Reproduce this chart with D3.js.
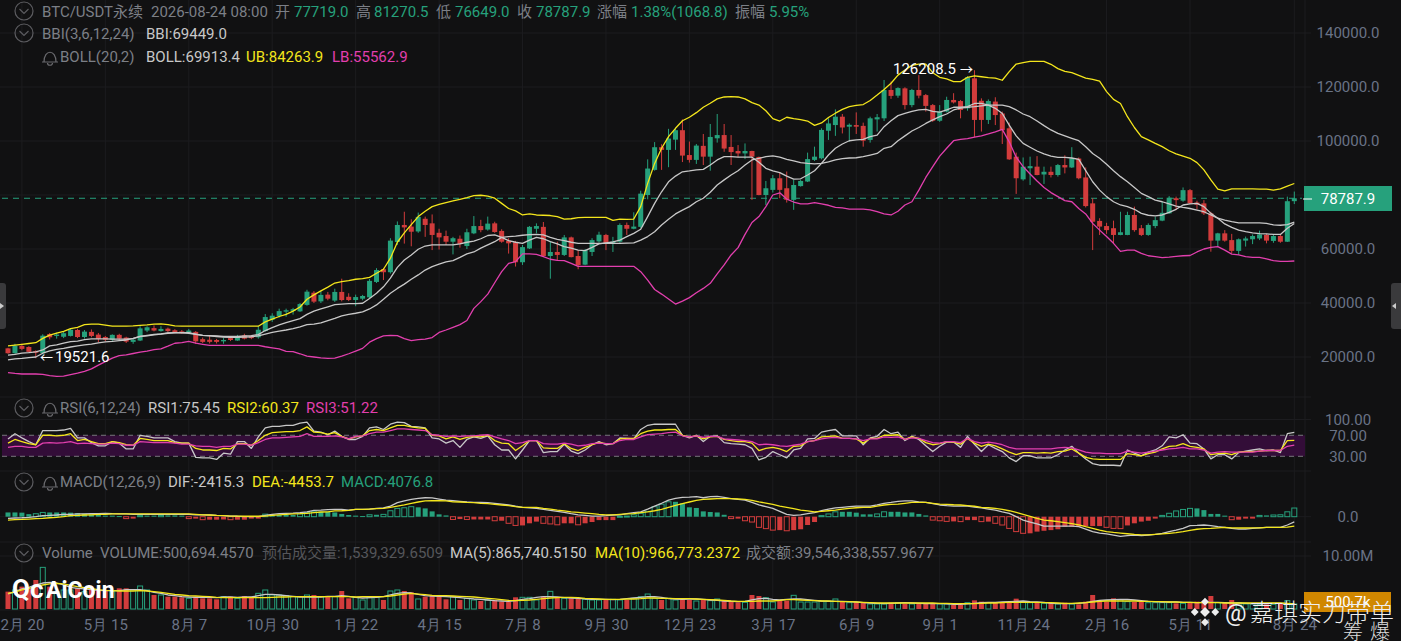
<!DOCTYPE html>
<html>
<head>
<meta charset="utf-8">
<script src="https://cdn.jsdelivr.net/npm/d3@7"></script>
<style>
html, body { margin: 0; padding: 0; background: #111112; overflow: hidden; }
svg { display: block; font-family: Roboto, "Noto Sans CJK SC", sans-serif; }
</style>
</head>
<body>
<svg id="chart" width="1401" height="641"></svg>
<script>
// prices are in thousands of USDT, volume in millions, macd in thousands
var opens = [
  23.2,21.4,24.1,23.7,22.2,21.4,28.5,27.8,27.5,27.8,
  30,27.4,29.3,28.3,27.4,26.4,28.2,27.2,25.6,26.1,
  29.8,30.7,29.6,30.5,29.9,29.5,29.1,29.3,26.6,26.4,
  26.3,25.8,27,26.1,28,27.8,27.3,29.6,33.8,35.2,
  36.8,37.1,36.9,39.3,43.8,40.6,43.1,40.9,44.1,42.3,
  41.1,41.6,42.1,47.8,52.5,51.4,62.6,68.9,68.3,66.5,
  71.2,69.5,66,64.8,62.7,63.8,61.1,65.8,68.5,67.2,
  69.5,66.7,63,62.5,55.1,60.2,67.5,68.2,57.4,58.9,
  57.8,64.3,57.4,54.2,58.9,62.8,65.2,62,62.7,68.9,
  67.5,68.2,80,89.3,97.7,96.7,100.5,104,94.8,93,
  98.2,94.2,101,102.2,97.8,96.3,95.4,96.3,94.1,80,
  81.9,86.2,82.5,78.2,83.3,85,93,93.6,103.8,105.9,
  109,105.3,105.9,105.6,100.4,108,108.4,118.9,116.8,119.5,
  113.3,118.9,117,113.3,107.5,110.9,115.2,114.8,112.1,123.2,
  114.9,107.8,114.6,110.2,104.7,94.2,85.8,89.9,90.5,87.6,
  88.6,87.4,91.1,90.2,93.5,86.5,76.9,70.4,68.5,67.7,
  65.2,65.2,72.6,67.7,65.2,68.5,70.5,73.2,78.8,77.9,
  81.8,77.2,76.9,73.2,63.1,65.8,63.3,59.3,63.1,63.6,
  63.9,65.2,63,64.8,62.7,77.719
]
var closes = [
  21.4,24.2,23,21.9,21.6,27.9,27.3,28.3,28.8,30.1,
  27.4,29.4,27.8,26.7,26.4,28.2,26.8,25.7,26.4,30.6,
  31,29.8,30.4,29.6,29,28.8,29.8,25.8,25.6,25.6,
  25.6,26.3,26.3,27.3,26.8,27,30.1,34.8,35.3,37,
  37.3,37.7,39.6,44.2,40.5,43,41.6,44.1,41.1,41.1,
  42.2,42.6,48.2,52.2,51.4,63.1,68.9,68,66.4,71.9,
  68.9,65.2,64.3,62.7,64,61.9,66.2,68.5,67,69.4,
  66.3,62.7,62.1,55.1,60.7,68.2,68.5,57.4,58.9,57.8,
  64.3,57,54,59.6,63.3,65.3,61.9,62.7,68.9,67.5,
  68.3,80.5,89.8,97.7,96.7,100.9,104,94.6,93,98.3,
  94.2,101.5,102.2,97.2,95.9,95.4,96.3,94.2,80,82.5,
  86.2,81.9,78.2,83.7,85.2,93.3,94.2,104.1,106.5,109,
  105,106,105.3,100.1,108.4,108.8,118.9,116.7,119.6,113.3,
  118.9,116.8,113,107.5,110.9,115.2,114.3,111.5,123.6,107.8,
  107.8,114.8,109.6,104,93.2,86.2,90.5,90.7,87.4,88.6,
  87.4,91.1,90.2,93.6,86.2,75.9,70.1,68.3,67,65.2,
  66.2,72.6,67,65.2,68.9,70.7,73.4,79,78.1,81.8,
  76.9,76.4,73.2,63.1,65.8,63.1,59.3,63.6,63.9,64.8,
  65.4,63.1,64.8,62.7,77.7,78.7879
]
var highs = [
  23.4,24.9,24.9,24,22.5,28.4,28.9,29,29.5,30.6,
  30.5,30,30.2,28.9,27.8,28.4,28.6,27.5,26.9,31.4,
  31.4,31.7,31.4,30.9,30.3,30,30.4,29.6,27.2,27.8,
  26.7,27,27.3,28.2,28.6,28.1,31.5,35.9,36.2,37.9,
  37.9,38.2,40,44.9,44.4,44.4,44.1,45.3,49,43.6,
  43.1,43,48.9,52.9,53,64,70.2,73.8,71,73.5,
  72,72.8,67.5,66.8,64.5,65,67.5,72.2,70.8,72,
  70.1,67.3,64,63,61.5,68.5,69.5,70,62.7,62.7,
  65.2,64.6,59.6,60,64,66.4,65.6,64.5,69.5,69.8,
  73.6,81.6,93.2,99.6,98.8,104.5,104.7,108,99.8,98.9,
  102.6,106.3,110,106.3,102.2,98.5,99.1,96.4,94.2,85.2,
  87.4,88.3,88.7,85.6,85.6,95.7,97.9,104.7,108.4,111.7,
  110,106.5,110.6,106.8,109,110,122.6,122,119.9,119.9,
  119.3,124.4,117.4,113.7,113.3,116.4,117.7,115.2,124,126.2085,
  115.8,115.4,116.2,110.9,106.8,95.7,93.9,94.2,94.4,90.5,
  90.5,91.5,94.7,97.7,93.9,90.2,78.8,71.4,69.7,70.5,
  73.8,73.8,75.7,68.9,69.5,72,77.5,79.6,79.4,82.8,
  82.2,77.9,78.1,73.8,66,67,65.6,63.9,64.6,65.4,
  66.8,65.6,65.2,65.2,79.4,81.2705
]
var lows = [
  21.2,21.2,22.5,21.6,19.5216,21,26.5,26.8,27,27.6,
  27,26.8,27.3,25.5,25.8,26,26.2,25.2,24.9,25.9,
  29.2,29.5,29.4,29,28.8,28.6,28.8,24.8,25.2,25,
  25,24.9,25.9,26,26.5,26.6,26.8,29.4,33,34.6,
  34.9,35.7,36.7,39,40,40,41,40.4,40.6,40.7,
  38.8,41,41.8,47.4,48.5,50.9,61.5,62,61,66,
  64.5,59.6,59.8,61.5,58,60.5,60,65.5,66.2,66.8,
  66,62.3,58.3,53.5,54.1,60,65.8,57.2,49,55.7,
  57.4,56.9,52.5,54,57.4,62.3,59.6,58.9,62.3,65.2,
  67.3,67.7,78.4,89,89.3,90.3,96.7,92.2,92,91.5,
  91.1,89,99.4,96,91.1,94,93.3,78.2,79.9,76.3,
  80.9,78.8,77.2,74.5,83.1,84.8,92.6,93.2,100.4,101.9,
  102.8,99.8,102.6,97.9,99.4,103.5,107.4,115.6,116,111.7,
  112.5,115.8,110.9,107.1,107.1,110.6,113.9,108.4,111.2,101.4,
  103.5,106.3,105.9,98.9,93,80.4,85.3,83.7,87.3,84.1,
  86.5,86.8,88,90,85.8,75.4,59.6,65.2,65.6,62.1,
  65.1,65.1,66.4,64.8,64.9,67.7,70.3,73,74.4,77.5,
  76.7,74.7,72.6,59,60.9,62.7,58.4,57.8,60.9,61.8,
  63.3,62.1,62.3,62.3,62.6,76.649
]
var bollUp = [
  24.1,24.4,24.7,25,25.3,26.9,28.1,28.8,29.5,30.5,
  31,32,32.2,32.2,31.8,31.4,31.4,31.4,31.5,31.7,
  31.9,32.2,32.3,32,31.5,31.4,31.4,31.4,31.4,31.4,
  31.4,31.4,31.4,31.4,31.4,31.4,31.4,33,34,35,
  35.8,37,38.5,41.4,43,44.5,45.9,47.4,47.9,48.3,
  48.8,49,49.5,51,52.5,56.6,62.5,66,69,72,
  74,75.7,76.5,77.2,77.8,78.4,79,79.8,79.9,79.6,
  78.8,76.9,75,74.1,72.6,73,72.6,72.5,72.4,72,
  71.1,71.2,71.6,71.7,71.7,71.7,71.7,70.6,71.1,71,
  71.1,75.7,84.3,91.7,97.3,101.6,104.7,107.5,108.8,110.5,
  112.5,114,115.6,116.3,116.4,116.3,115.6,114.2,113.3,111.2,
  108.3,107.4,108.8,108.3,107.9,107.4,105.8,106.7,108.7,110.3,
  111.7,112.7,113.2,113.5,115,117,119.1,121.4,124.4,126.3,
  128,128.5,128.5,125.3,123.6,123,122,122,123.6,124.1,
  123.8,123.5,123.3,122.5,125.7,128.5,129,129.5,129.5,129.5,
  128.4,126.8,125.8,125.3,124.3,123.3,122.8,122.2,118.3,115.4,
  113.9,109,105,101.6,100.4,99.1,97.9,96.4,95.2,94.4,
  93.6,92,89.3,85.6,82.2,81.5,82.3,82.3,82.3,82.3,
  82.2,82.2,81.8,82.3,83.3,84.2639
]
var bollLow = [
  14.2,13.9,13.7,13.7,13.7,13.6,13.1,12.8,12.9,13.5,
  14,14.7,15.6,17,18.3,19.6,20.5,20.8,21.3,21.8,
  22.2,22.7,23,24,25.1,25.3,25.8,25.1,24.7,24.3,
  24.3,24.3,24.3,24.3,24.3,24.3,24.3,23.8,23.4,23,
  22.1,22,21.2,20.3,20,19.7,19.5,19.6,20.3,21.2,
  22.2,23.2,25.5,26.8,27.8,28,27.9,26.8,26.1,26.4,
  26.6,27.2,29.1,30,31,32,33.5,38,40.5,43.3,
  47.5,51.6,54.7,55.3,58.2,58.2,58,57.2,56.2,55.8,
  55.7,54.7,53.6,53.6,53.6,53.6,53.6,53.6,53.6,53.6,
  53.6,51.6,48.5,45,43.3,41.5,39.6,40.7,42,43.8,
  45.4,47.3,50.8,54.1,57.8,60.5,65.4,69.8,72,75.7,
  80,80.8,78.5,77.4,76.7,76.7,77.2,76.7,76.2,75.4,
  75.2,74.8,74.8,74.8,74.5,73.8,73,72.6,74,76.3,
  77.5,81.8,86.5,90.5,94.4,97.3,100.1,100.6,100.9,101.4,
  101.9,102.6,103.4,104.3,99.7,94,90.5,87.8,85.2,82.8,
  80.9,79.4,77.9,77.5,75,73,69.5,67,64.6,62.1,
  59.1,59.6,59.6,58.4,57.5,57.2,56.8,57,57.3,57.5,
  57.6,58.9,60,60.6,60.9,59.6,58.1,57.8,57.2,56.9,
  56.9,56.3,55.7,55.4,55.4,55.5629
]
var bollMid = [
  18.9,19.3,19.5,19.8,20,21.4,22.3,22.8,23.2,23.7,
  24.1,24.5,24.8,25.2,25.6,25.8,26.1,26.3,26.9,27.6,
  28,28.4,28.6,28.9,29,29,29,28.5,28,27.8,
  27.6,27.4,27.3,27.3,27.4,27.5,27.8,28.5,29.1,29.6,
  30,30.5,31.2,32,32.2,32.6,33.5,34.3,35.2,35.8,
  36.2,36.7,37.8,39.3,41.4,43.6,45.4,47,48.8,50.4,
  52.2,53.5,54.4,55.2,55.7,56.9,58.2,58.9,60.3,61.5,
  62.7,64.3,64.6,64.8,65.1,65.3,65.4,65.2,64.3,63.6,
  63.1,62.5,62.1,62.1,62.1,62.1,62.1,62.1,62.1,62.2,
  62.3,63.3,64.6,66.4,68.9,71,73,74.4,75.7,77.5,
  78.8,81,83.7,85.6,87.4,89,91.1,93,93.6,94.2,
  94.5,94,93.2,92.6,92,91.7,91.5,91.7,92.3,93,
  93.5,93.7,93.8,94.2,94.8,95.4,97.3,97.9,100.1,101.9,
  103.7,105,106.5,107.8,109,110,111.5,112.2,112.5,112.7,
  113,113.3,113.3,113.3,112.7,111.5,110,109,107.4,105.7,
  104.1,102.8,101.9,101,100.1,97.9,95.4,93.6,91.4,89,
  86.8,84.9,82.8,80.6,79.4,78.1,77.5,76.7,75.9,75.4,
  75,74.4,73.8,72.6,71.4,70.7,70.1,69.7,69.7,69.7,
  69.7,69.5,68.9,68.8,69,69.9134
]
var bbi = [
  20.7,21,21.4,21.6,21.9,22.6,24.1,24.5,25.1,25.7,
  25.9,26.4,26.7,26.7,26.7,26.6,26.6,26.6,26.8,27.6,
  27.8,28.2,28.5,28.8,28.9,28.9,28.8,28.4,28,27.9,
  27.8,27.6,27.6,27.6,27.8,27.9,28.3,29.8,30.9,31.9,
  32.7,33.5,34.2,35.8,37,37.8,38.6,39.4,39.6,39.8,
  39.8,39.9,41.7,43.6,46,49.2,53.2,55.9,57.8,59.9,
  61.1,61.5,61.5,61.5,61.5,61.9,62.5,62.9,63.8,65,
  65.2,64.3,63.1,62.5,62.1,63.3,64.3,63.8,62.7,61.9,
  60.9,60.3,59.6,59.4,60.6,61.9,62.3,62.6,63.3,64.6,
  65.8,67.3,72,76.9,81.2,84.9,87,88.6,88.9,89.3,
  89.5,91.1,93,94.2,94.2,94,94,94,92.1,89.9,
  88.9,88.3,87,85.9,86,87.4,89,91.7,94.8,97.3,
  98.9,100.1,100.4,100.6,101.6,102.2,105.3,107.5,109.4,110.2,
  111,111.5,111.7,111,110.7,111.5,112.5,112.5,112.7,113.9,
  113.9,113.3,112.1,110.2,105.9,101.9,99.1,97.7,96.3,95.2,
  94.4,93.9,93.9,93.7,93.2,89,84.9,81.8,79.4,77.5,
  76.3,75.7,74.7,73.2,72.5,72.3,72.6,73.6,74.7,76.3,
  76.7,76.9,75.7,73.2,71.4,69.3,68,67,66.4,66,
  65.7,65.6,65.4,65.4,67.7,69.449
]
var rsi1 = [
  63,73,65,58,52,79,79,79,80,83,65,65,56,50,50,58,55,44,44,70,
  68,65,65,65,58,55,55,28,27,27,24,36,34,58,58,45,67,84,87,87,
  89,89,93,95,78,76,71,78,68,62,62,68,84,86,81,91,95,94,87,86,
  84,65,63,55,60,47,62,67,64,69,52,42,42,25,42,60,60,37,39,39,
  53,40,35,42,52,58,52,54,65,64,63,81,89,91,91,91,91,70,65,70,
  58,68,69,56,54,53,52,45,23,28,39,33,27,42,45,63,64,76,79,81,
  69,69,69,52,65,68,81,73,76,60,68,62,50,39,49,57,57,47,68,53,
  39,52,45,39,27,20,31,31,27,27,27,33,42,49,36,25,16,13,13,13,
  12,42,36,31,38,42,50,67,65,71,55,54,44,25,33,33,25,37,40,42,
  44,41,42,37,73,75.45
]
var rsi2 = [
  55,62,58,54,52,70,70,69,70,73,60,62,58,54,54,58,56,52,51,64,
  62,60,60,60,56,55,55,45,42,42,41,45,44,54,54,51,60,70,75,76,
  77,77,79,86,76,75,72,75,68,63,67,69,79,81,79,84,89,89,86,84,
  83,70,69,63,67,62,66,68,67,70,60,55,54,41,50,60,60,46,45,45,
  54,45,41,47,52,56,54,54,63,64,64,73,78,80,80,81,81,70,67,69,
  63,67,68,62,60,58,58,55,41,45,47,44,39,49,50,58,60,67,68,69,
  64,64,63,55,64,64,70,70,71,62,67,64,56,52,54,58,57,53,64,55,
  49,53,50,44,38,33,37,37,36,37,36,39,40,44,36,28,25,24,24,24,
  24,35,33,31,35,38,44,49,50,54,49,47,44,33,35,36,33,38,39,39,
  40,41,41,41,60,60.37
]
var rsi3 = [
  47,49,49,47,47,55,56,55,56,58,54,55,54,53,53,55,54,51,51,58,
  57,56,56,56,55,53,53,50,49,49,47,49,49,53,53,51,56,62,65,65,
  66,67,68,73,68,68,68,69,67,63,68,69,73,76,76,79,82,82,81,80,
  79,71,70,68,69,68,69,69,70,71,67,63,60,54,56,60,60,54,53,53,
  55,53,50,51,54,55,54,54,60,62,62,67,71,72,73,75,76,69,67,69,
  66,68,68,63,62,61,60,58,52,53,52,50,49,51,53,58,60,63,65,66,
  64,64,63,60,63,63,67,66,67,62,65,64,60,56,55,58,58,56,64,58,
  55,57,55,52,47,44,44,44,44,44,44,46,47,46,42,38,36,36,35,35,
  35,40,38,36,38,40,42,44,45,47,44,44,42,36,38,39,38,38,38,38,
  40,41,41,41,49,51.22
]
var dif = [
  -.8,-.6,-.5,-.3,0,.5,.6,.8,1.1,1.1,1.3,1.3,1.4,1.4,1.6,1.4,1.3,1.3,1.1,1.1,
  1.1,1.1,1.1,1.1,1.1,1.1,1.1,.9,.9,.8,.6,.5,.3,.2,0,0,0,.6,1.1,1.4,
  1.6,1.7,1.9,2.3,3,3.1,3.3,3.4,3.4,3.1,3.4,3.4,3.6,3.9,4.1,5,6.6,7.4,8.1,8.6,
  8.9,8.8,8.3,7.8,7.5,7.2,6.9,6.7,6.7,6.6,6.3,5.9,5.5,4.9,4.4,4.2,3.9,3.4,3,2.5,
  2,1.4,.9,.6,.3,.3,.5,.8,.9,1.4,1.9,2.3,3.6,5,6.3,7.8,8.6,9.1,9.2,9.4,
  8.9,9.4,9.5,9.1,8.5,8.1,7.8,6.7,5.5,4.7,3.9,2.5,1.1,.6,.9,1.4,1.9,2.8,3.6,4.1,
  4.4,4.7,5,5,5,5.6,6.3,6.7,7.2,7.4,7.4,7,6.7,6.1,5.5,5.2,5,5,5,4.5,
  4.1,3.6,3.1,2.3,1.6,0,-1.6,-2.5,-3.4,-4.4,-4.4,-4.4,-4.4,-4.4,-4.7,-5.8,-7,-7.7,-8.1,-8.6,
  -9.2,-8.9,-8.6,-8.9,-8.6,-8.3,-7.8,-7,-6.3,-5.5,-4.2,-4.1,-3.9,-4.2,-4.7,-5,-5.5,-5.8,-5.8,-5.5,
  -5.2,-5,-5,-5,-3.9,-2.4153
]
var dea = [
  -1.6,-1.4,-1.3,-1.1,-.9,-.8,-.5,-.3,0,.5,.6,.8,.9,1.1,1.1,1.3,1.3,1.3,1.3,1.3,
  1.3,1.3,1.3,1.3,1.3,1.3,1.3,1.1,.9,.8,.6,.5,.3,.3,.2,.2,.2,.3,.6,.9,
  1.1,1.3,1.4,1.6,1.9,2.2,2.3,2.7,2.8,3,3.4,3.4,3.6,3.8,3.9,4.4,5,5.6,6.3,6.9,
  7.4,7.5,7.5,7.4,7,6.9,6.7,6.6,6.3,6.1,5.8,5.5,5.2,4.7,4.4,4.4,4.4,3.9,3.6,3.1,
  2.7,2.3,2,1.7,1.4,1.1,.9,.9,1.1,1.3,1.4,1.9,2.3,2.8,3.4,4.4,5.3,6.1,6.9,7.7,
  8.1,8.3,8.5,8.5,8.5,8.3,8.1,7.7,7,6.4,5.8,5,4.4,3.8,3.1,2.7,2.3,2.5,2.8,3.1,
  3.6,3.9,4.2,4.4,4.4,5,5.5,5.8,5.9,6.3,6.7,6.7,6.7,6.3,5.9,5.8,5.6,5.5,5.2,4.9,
  4.4,4.2,3.9,3.4,2.8,2,1.1,.2,-.8,-1.6,-1.9,-2.3,-2.8,-3.3,-3.8,-4.7,-5.5,-6.3,-7,-7.4,
  -7.7,-8,-8.3,-8.5,-8.5,-8.3,-8.1,-7.8,-7.5,-7,-6.4,-5.9,-5.6,-5.5,-5.2,-5,-5.2,-5.3,-5.3,-5.2,
  -5.2,-5,-5,-5,-4.9,-4.4537
]
var macdHist = [
  2,2,1.9,1.2,1.4,2,2,2,2,1.9,1.7,1.4,1.1,.8,.5,.5,.3,-.9,-.9,.5,
  .5,.5,.6,.6,.6,.5,-.9,-.9,-1.4,-1.4,-1.4,-1.3,-1.4,-1.4,-1.4,-.9,-.9,1.2,1.1,.8,
  .8,.8,1.3,1.9,2.3,2.3,2.2,2,1.3,.8,.5,.3,.9,.9,1.1,2.8,3.9,4.2,4.7,4.4,
  3.9,2.5,1.1,.6,-1.3,-1.1,-1.3,-1.3,-1.3,-1.3,-1.9,-1.9,-3.1,-4.1,-4.1,-3.1,-2.3,-3.1,-3.4,-3.8,
  -3.1,-3.1,-3.8,-3.1,-2.5,-1.6,-1.6,-1.6,.2,.3,.9,1.6,2.5,4.7,5.9,7,7,6.3,4.4,4.1,
  2.5,2.2,2,.9,-.9,-.9,-1.9,-2.5,-5,-5.6,-6.3,-6.3,-6.6,-6.3,-5.9,-3.9,-2.5,.5,1.3,2.3,
  2.3,2.3,1.9,1.1,1.1,1.3,2.3,2.3,2.3,2,2,1.3,.6,-1.6,-1.9,-2.2,-2.2,-2.3,-1.6,-1.6,
  -2.3,-2.3,-3.1,-3.9,-5.5,-7,-7.8,-7.8,-7,-6.6,-6.3,-5.9,-4.7,-4.7,-4.7,-4.4,-4.4,-4.4,-5,-5.5,
  -5.6,-4.1,-3.1,-2.3,-1.9,-.9,.6,1.6,2.7,3.4,3.9,3.9,3.1,1.3,1.3,.5,-1.4,-1.4,-.9,-.9,
  .6,.6,.8,.9,2.3,4.0768
]
var volumes = [
  2.94,3.27,3.93,3.6,5.25,7.75,3.93,2.94,3.27,3.27,3.6,2.94,3.27,3.27,3.27,2.94,3.6,3.6,3.27,4.06,
  3.27,2.28,2.28,1.95,1.95,1.82,1.62,1.95,1.62,1.62,1.42,1.95,1.95,1.62,2.08,1.82,2.61,3.27,2.28,2.28,
  2.15,1.95,1.95,2.28,2.28,1.95,2.08,1.95,3.07,1.62,1.82,1.29,1.75,1.82,1.29,3.07,3.27,3.07,2.81,1.49,
  1.95,2.15,2.08,1.42,1.95,1.29,1.62,1.29,1.09,1.29,1.29,.96,.96,1.82,1.82,1.82,1.29,1.95,3,1.82,
  1.62,1.62,1.62,1.42,1.29,1.29,1.49,1.42,1.29,1.29,1.62,1.95,2.47,1.62,1.29,1.62,1.29,1.49,1.29,1.09,
  1.29,1.16,1.49,1.09,1.09,.82,.82,2.28,2.08,1.75,.89,1.09,1.16,2.21,.89,.89,.89,1.09,1.09,1.49,
  .96,.76,.82,.76,.5,.5,.5,.76,.76,.5,.5,.63,.5,.5,.5,.5,.3,.3,.76,1.22,
  .96,.76,.76,.89,.89,1.55,.82,.76,.76,.63,.76,.5,.76,.5,.43,.96,2.28,1.09,.96,1.62,
  1.29,.96,.89,.89,.76,.76,.76,.76,.63,.63,.76,.96,.96,2.08,.76,.76,1.29,.76,.5,.5,
  .43,.43,.43,.5,1.16,.5007
]
var volMa5 = [
  2.48,2.94,3.47,3.8,4.26,4.65,4.79,4.65,4.26,3.8,3.6,3.47,3.33,3.2,3.13,3.13,3.13,3.33,3.33,3.33,
  3.13,2.81,2.61,2.28,2.15,1.95,1.88,1.82,1.82,1.82,1.75,1.88,1.88,1.82,1.88,1.88,2.15,2.41,2.41,2.28,
  2.15,2.01,1.88,1.88,1.88,1.88,2.01,2.01,2.15,2.01,1.82,1.68,1.75,1.82,1.95,2.28,2.61,2.74,2.67,2.41,
  2.15,2.08,2.01,1.95,1.88,1.75,1.62,1.49,1.42,1.29,1.16,1.09,1.02,1.16,1.42,1.55,1.82,1.95,1.95,1.88,
  1.75,1.68,1.62,1.49,1.42,1.42,1.42,1.35,1.42,1.55,1.68,1.82,1.95,1.95,1.82,1.55,1.49,1.42,1.49,1.49,
  1.42,1.29,1.22,1.09,1.02,.96,1.02,1.29,1.55,1.62,1.42,1.29,1.42,1.49,1.49,1.35,1.22,1.09,1.02,1.02,
  1.02,.96,.89,.76,.69,.63,.56,.63,.69,.76,.69,.63,.56,.56,.56,.5,.43,.43,.5,.63,
  .76,.82,.82,.89,.96,1.02,1.09,.96,.89,.82,.63,.56,.56,.56,.63,.76,1.02,1.22,1.29,1.35,
  1.42,1.42,1.29,1.16,1.02,.96,.89,.89,.89,.82,.82,.76,.82,.82,.82,.76,.69,.69,.63,.56,
  .56,.56,.63,.63,.56,.5
]
var volMa10 = [
  2.61,2.87,3.27,3.6,3.93,4.26,4.46,4.59,4.46,4.19,3.93,3.73,3.53,3.33,3.2,3.13,3.07,3.07,3.07,3.13,
  3.07,2.94,2.81,2.61,2.41,2.28,2.15,2.08,2.01,1.95,1.82,1.75,1.75,1.75,1.75,1.75,1.75,1.75,1.82,1.88,
  1.88,1.95,1.95,1.95,1.95,1.95,1.95,1.95,1.95,1.95,1.88,1.95,1.95,1.95,1.95,2.08,2.28,2.47,2.61,2.47,
  2.34,2.21,2.15,2.15,2.08,2.01,1.95,1.88,1.75,1.62,1.49,1.35,1.22,1.16,1.22,1.29,1.42,1.55,1.68,1.75,
  1.82,1.82,1.75,1.62,1.55,1.49,1.42,1.42,1.42,1.49,1.49,1.55,1.68,1.68,1.62,1.62,1.55,1.55,1.55,1.49,
  1.42,1.35,1.29,1.22,1.09,1.02,1.02,1.02,1.09,1.09,1.09,1.22,1.35,1.35,1.29,1.22,1.16,1.09,1.09,1.02,
  .96,.96,.89,.82,.76,.69,.69,.69,.69,.69,.69,.69,.69,.69,.63,.63,.56,.56,.56,.56,
  .63,.69,.69,.76,.82,.82,.82,.82,.82,.76,.76,.69,.63,.63,.69,.76,.89,1.02,1.09,1.09,
  1.09,1.09,1.09,1.02,1.02,.96,.96,.89,.89,.82,.82,.76,.76,.76,.76,.69,.69,.69,.69,.69,
  .69,.69,.69,.69,.63,.5
]

var tickIdx = [2,14,26,38,50,62,74,86,98,110,122,134,146,158,170,185]
var tickLabels = ['2月 20','5月 15','8月 7','10月 30','1月 22','4月 15','7月 8','9月 30','12月 23','3月 17','6月 9','9月 1','11月 24','2月 16','5月 11','8月 24']
var priceTicks = [20,40,60,80,100,120,140]
var rsiTicks = [30,70,100]
var macdTicks = [0]
var volTicks = [10]

var green = '#26a17c', red = '#d23c3c', yellow = '#f4e61c', pink = '#e23fae', white = '#c8c8c8'
var gridCol = '#1c1c1f', axisCol = '#6a7386', labelCol = '#7c7f86'

var svg = d3.select('#chart')
var idx = d3.range(186)

var x = d3.scaleLinear().domain([0, 185]).range([8, 1294.3])
var yPrice = d3.scaleLinear().domain([20, 140]).range([357, 33])
var yRsi = d3.scaleLinear().domain([30, 100]).range([456.3, 419.5])
var yMacd = d3.scaleLinear().domain([0, 10]).range([516.7, 495.4])
var yVol = d3.scaleLinear().domain([0, 10]).range([606.5, 556])
var volBottom = 609

// grid
var gridY = priceTicks.map(yPrice).concat([397, yRsi(100), 471, yMacd(0), 542, yVol(10), 610])
svg.append('g').selectAll('line').data(gridY).join('line')
	.attr('x1', 0).attr('x2', 1311).attr('y1', function(d) { return d }).attr('y2', function(d) { return d })
	.attr('stroke', gridCol)
svg.append('g').selectAll('line').data(tickIdx).join('line')
	.attr('x1', function(d) { return x(d) }).attr('x2', function(d) { return x(d) })
	.attr('y1', 0).attr('y2', 610).attr('stroke', gridCol)
svg.append('line').attr('x1', 1305).attr('x2', 1305).attr('y1', 0).attr('y2', 610).attr('stroke', gridCol)

// last price line
svg.append('line').attr('x1', 2).attr('x2', 1302).attr('y1', yPrice(78.7879)).attr('y2', yPrice(78.7879))
	.attr('stroke', green).attr('stroke-dasharray', '6 5').attr('stroke-width', 1)

// candles
var cw = 5
var candles = svg.append('g')
candles.selectAll('line').data(idx).join('line')
	.attr('x1', function(i) { return x(i) }).attr('x2', function(i) { return x(i) })
	.attr('y1', function(i) { return yPrice(highs[i]) }).attr('y2', function(i) { return yPrice(lows[i]) })
	.attr('stroke', function(i) { return closes[i] >= opens[i] ? green : red })
candles.selectAll('rect').data(idx).join('rect')
	.attr('x', function(i) { return x(i) - cw / 2 }).attr('width', cw)
	.attr('y', function(i) { return yPrice(Math.max(opens[i], closes[i])) })
	.attr('height', function(i) { return Math.max(1, Math.abs(yPrice(opens[i]) - yPrice(closes[i]))) })
	.attr('fill', function(i) { return closes[i] >= opens[i] ? green : red })

function drawLine(vals, y, col, w) {
	var line = d3.line().x(function(d, i) { return x(i) }).y(function(d) { return y(d) })
	svg.append('path').attr('d', line(vals)).attr('fill', 'none').attr('stroke', col)
		.attr('stroke-width', w || 1.3).attr('stroke-linejoin', 'round')
}

drawLine(bollMid, yPrice, white)
drawLine(bbi, yPrice, white)
drawLine(bollUp, yPrice, yellow)
drawLine(bollLow, yPrice, pink)

// rsi band
svg.append('rect').attr('x', 2).attr('width', 1303).attr('y', yRsi(70)).attr('height', yRsi(30) - yRsi(70)).attr('fill', '#330d38')
svg.append('g').selectAll('line').data([30, 70]).join('line')
	.attr('x1', 2).attr('x2', 1305).attr('y1', function(d) { return yRsi(d) }).attr('y2', function(d) { return yRsi(d) })
	.attr('stroke', '#77767c').attr('stroke-dasharray', '5 4')
drawLine(rsi1, yRsi, white)
drawLine(rsi2, yRsi, yellow)
drawLine(rsi3, yRsi, pink)

// macd histogram, hollow while the bar is growing
svg.append('g').selectAll('rect').data(idx).join('rect')
	.attr('x', function(i) { return x(i) - 2.5 }).attr('width', 5)
	.attr('y', function(i) { return macdHist[i] >= 0 ? yMacd(macdHist[i]) : yMacd(0) })
	.attr('height', function(i) { return Math.max(1, Math.abs(yMacd(macdHist[i]) - yMacd(0))) })
	.each(function(i) {
		var v = macdHist[i], up = v >= 0, prev = i > 0 ? macdHist[i - 1] : v
		var hollow = up ? v > prev : v < prev
		var col = up ? green : red
		d3.select(this).attr('fill', hollow ? 'none' : col).attr('stroke', hollow ? col : 'none')
	})
drawLine(dif, yMacd, white)
drawLine(dea, yMacd, yellow)

// volume, up weeks hollow
svg.append('g').selectAll('rect').data(idx).join('rect')
	.attr('x', function(i) { return x(i) - 2.5 }).attr('width', 5)
	.attr('y', function(i) { return yVol(volumes[i]) })
	.attr('height', function(i) { return volBottom - yVol(volumes[i]) })
	.each(function(i) {
		var up = closes[i] >= opens[i]
		d3.select(this).attr('fill', up ? 'none' : red).attr('stroke', up ? green : 'none')
	})
drawLine(volMa5, yVol, white)
drawLine(volMa10, yVol, yellow)

// axes
function styleAxis(g) {
	g.select('.domain').remove()
	g.selectAll('line').remove()
	g.selectAll('text').attr('fill', axisCol).attr('text-anchor', 'middle').attr('font-size', 15).attr('font-family', 'Roboto')
}
svg.append('g').attr('transform', 'translate(1348,0)')
	.call(d3.axisRight(yPrice).tickValues(priceTicks).tickSize(0).tickPadding(0).tickFormat(function(d) { return (d * 1000).toFixed(1) }))
	.call(styleAxis)
svg.append('g').attr('transform', 'translate(1348,0)')
	.call(d3.axisRight(yRsi).tickValues(rsiTicks).tickSize(0).tickPadding(0).tickFormat(function(d) { return d.toFixed(2) }))
	.call(styleAxis)
svg.append('g').attr('transform', 'translate(1348,0)')
	.call(d3.axisRight(yMacd).tickValues(macdTicks).tickSize(0).tickPadding(0).tickFormat(function(d) { return d.toFixed(1) }))
	.call(styleAxis)
svg.append('g').attr('transform', 'translate(1348,0)')
	.call(d3.axisRight(yVol).tickValues(volTicks).tickSize(0).tickPadding(0).tickFormat(function(d) { return d.toFixed(2) + 'M' }))
	.call(styleAxis)
svg.append('g').attr('transform', 'translate(0,615)')
	.call(d3.axisBottom(x).tickValues(tickIdx).tickSize(0).tickPadding(4).tickFormat(function(d, i) { return tickLabels[i] }))
	.call(styleAxis)

// current price and volume tags
svg.append('rect').attr('x', 1304).attr('y', 186).attr('width', 88).attr('height', 25).attr('fill', green)
svg.append('line').attr('x1', 1303).attr('x2', 1312).attr('y1', 199).attr('y2', 199).attr('stroke', '#fff')
svg.append('text').attr('x', 1348).attr('y', 204).attr('text-anchor', 'middle').attr('fill', '#fff').attr('font-size', 15).text('78787.9')
svg.append('rect').attr('x', 1304).attr('y', 592).attr('width', 87).attr('height', 20).attr('fill', '#d08700')
svg.append('text').attr('x', 1348).attr('y', 607).attr('text-anchor', 'middle').attr('fill', '#fff').attr('font-size', 15).text('500.7k')

// high / low notes
svg.append('text').attr('x', 893).attr('y', 74).attr('fill', '#fff').attr('font-size', 15).text('126208.5')
svg.append('text').attr('x', 960).attr('y', 74).attr('fill', '#fff').attr('font-size', 13).text('→')
svg.append('text').attr('x', 40).attr('y', 362).attr('fill', '#fff').attr('font-size', 13).text('←')
svg.append('text').attr('x', 55).attr('y', 362).attr('fill', '#fff').attr('font-size', 15).text('19521.6')

// legends
function label(x0, y0, txt, col) {
	svg.append('text').attr('x', x0).attr('y', y0).attr('fill', col).attr('font-size', 15).text(txt)
}
function chevron(cy) {
	var g = svg.append('g').attr('transform', 'translate(24,' + cy + ')')
	g.append('circle').attr('r', 9).attr('fill', 'none').attr('stroke', '#5c5c60').attr('stroke-width', 1.2)
	g.append('path').attr('d', 'M-4.5,-2 L0,2.5 L4.5,-2').attr('fill', 'none').attr('stroke', '#5c5c60').attr('stroke-width', 1.2)
}
function bell(cx, cy) {
	var g = svg.append('g').attr('transform', 'translate(' + cx + ',' + cy + ')')
	g.append('path').attr('d', 'M-8,5 L8,5 M-6,5 C-6,-8 6,-8 6,5 M-2.5,6 C-2.5,9 2.5,9 2.5,6').attr('fill', 'none').attr('stroke', '#6a6a6e').attr('stroke-width', 1.2)
}

var lineY = [17, 39, 62, 413, 487, 558]
chevron(11); chevron(33); chevron(408); chevron(482); chevron(553)
bell(50, 57); bell(50, 408); bell(50, 482)

label(42, lineY[0], 'BTC/USDT永续', labelCol)
label(151, lineY[0], '2026-08-24 08:00', labelCol)
label(275, lineY[0], '开', labelCol); label(294, lineY[0], '77719.0', green)
label(356, lineY[0], '高', labelCol); label(374, lineY[0], '81270.5', green)
label(436, lineY[0], '低', labelCol); label(455, lineY[0], '76649.0', green)
label(517, lineY[0], '收', labelCol); label(536, lineY[0], '78787.9', green)
label(597, lineY[0], '涨幅', labelCol); label(631, lineY[0], '1.38%(1068.8)', green)
label(735, lineY[0], '振幅', labelCol); label(769, lineY[0], '5.95%', green)

label(42, lineY[1], 'BBI(3,6,12,24)', labelCol); label(146, lineY[1], 'BBI:69449.0', white)

label(60, lineY[2], 'BOLL(20,2)', labelCol); label(146, lineY[2], 'BOLL:69913.4', white)
label(246, lineY[2], 'UB:84263.9', yellow); label(332, lineY[2], 'LB:55562.9', pink)

label(60, lineY[3], 'RSI(6,12,24)', labelCol); label(148, lineY[3], 'RSI1:75.45', white)
label(227, lineY[3], 'RSI2:60.37', yellow); label(306, lineY[3], 'RSI3:51.22', pink)

label(60, lineY[4], 'MACD(12,26,9)', labelCol); label(168, lineY[4], 'DIF:-2415.3', white)
label(252, lineY[4], 'DEA:-4453.7', yellow); label(341, lineY[4], 'MACD:4076.8', green)

label(42, lineY[5], 'Volume', labelCol); label(100, lineY[5], 'VOLUME:500,694.4570', labelCol)
label(262, lineY[5], '预估成交量:1,539,329.6509', '#55565a')
label(450, lineY[5], 'MA(5):865,740.5150', white); label(595, lineY[5], 'MA(10):966,773.2372', yellow)
label(746, lineY[5], '成交额:39,546,338,557.9677', labelCol)

// side handles
svg.append('rect').attr('x', -4).attr('y', 283).attr('width', 10).attr('height', 46).attr('rx', 3).attr('fill', '#3a3a3c')
svg.append('path').attr('d', 'M0,303 L4,306 L0,309 Z').attr('fill', '#ccc')
svg.append('rect').attr('x', 1391).attr('y', 283).attr('width', 14).attr('height', 46).attr('rx', 3).attr('fill', '#3a3a3c')
svg.append('path').attr('d', 'M1396,303 L1392,306 L1396,309 Z').attr('fill', '#ccc')

// watermarks
svg.append('text').attr('x', 12).attr('y', 598).attr('fill', '#fff').attr('font-size', 26).attr('font-weight', 700).text('Qc')
svg.append('text').attr('x', 46).attr('y', 598).attr('fill', '#fff').attr('font-size', 23).attr('font-weight', 700).text('AiCoin')
var bn = svg.append('g').attr('transform', 'translate(1205,612) rotate(45)').attr('fill', '#eee')
bn.append('rect').attr('x', -3.5).attr('y', -3.5).attr('width', 7).attr('height', 7)
bn.append('rect').attr('x', -10).attr('y', -10).attr('width', 5.5).attr('height', 5.5)
bn.append('rect').attr('x', 4.5).attr('y', -10).attr('width', 5.5).attr('height', 5.5)
bn.append('rect').attr('x', -10).attr('y', 4.5).attr('width', 5.5).attr('height', 5.5)
bn.append('rect').attr('x', 4.5).attr('y', 4.5).attr('width', 5.5).attr('height', 5.5)
svg.append('text').attr('x', 1225).attr('y', 621).attr('fill', '#eee').attr('font-size', 24).text('@')
svg.append('text').attr('x', 1250).attr('y', 621).attr('fill', '#eee').attr('font-size', 24).attr('font-family', 'Noto Sans CJK SC').attr('font-weight', 300).text('嘉琪实力带单')
svg.append('text').attr('x', 1343).attr('y', 639).attr('fill', '#ddd').attr('font-size', 20).attr('font-family', 'Noto Sans CJK SC').attr('font-weight', 300).text('筹')
svg.append('text').attr('x', 1370).attr('y', 639).attr('fill', '#ddd').attr('font-size', 20).attr('font-family', 'Noto Sans CJK SC').attr('font-weight', 300).text('爆')
</script>
</body>
</html>
